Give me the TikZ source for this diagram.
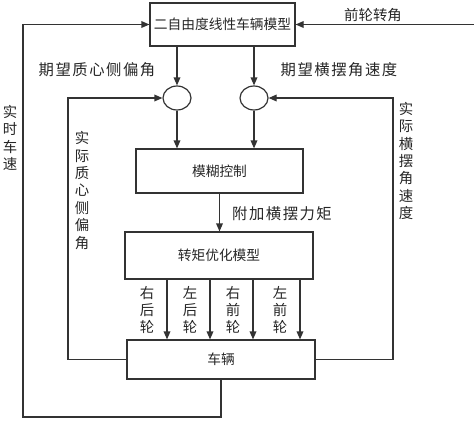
\documentclass[tikz,border=0pt]{standalone}
\usepackage{fontspec}
\setmainfont{Noto Sans CJK SC}
\newfontfamily\widecjk[LetterSpace=10]{Noto Sans CJK SC}
\usetikzlibrary{arrows.meta,shapes.geometric}

\begin{document}
\begin{tikzpicture}[x=0.75pt,y=-0.75pt,
	every node/.style={text=black!85},
	box/.style={draw=black!80,line width=0.9pt,inner sep=0pt,font=\fontsize{10.3}{12}\selectfont},
	sum/.style={draw=black!80,ellipse,line width=0.9pt,minimum width=21pt,minimum height=18pt,inner sep=0pt},
	arr/.style={draw=black!80,-{Triangle[length=6pt,width=5pt]},line width=0.9pt},
	wire/.style={draw=black!80,line width=0.9pt},
	lab/.style={font=\fontsize{10.8}{13.1}\selectfont,align=center,inner sep=0pt},
	widelab/.style={font=\widecjk\fontsize{11.5}{13}\selectfont,inner sep=0pt}]
	\useasboundingbox (0,0) rectangle (474,421);
	% blocks
	\node[box,minimum width=108.75pt,minimum height=32.25pt] (model) at (222.5,24.5) {二自由度线性车辆模型};
	\node[sum] (lsum) at (177,98) {};
	\node[sum] (rsum) at (254,98) {};
	\node[box,minimum width=125.25pt,minimum height=33pt] (fuzzy) at (219.5,171) {模糊控制};
	\node[box,minimum width=141pt,minimum height=35.25pt] (torque) at (219,255.5) {转矩优化模型};
	\node[box,minimum width=141pt,minimum height=29.25pt] (car) at (221,359.5) {车辆};
	% free ends
	\coordinate (steer) at (474,24.5);
	\coordinate (speed) at (23,417);
	\coordinate (betafb) at (68,0);
	\coordinate (yawfb) at (393,0);
	% connectors
	\draw[arr] (steer) -- (model.east);
	\draw[arr] (model.south -| lsum) -- (lsum);
	\draw[arr] (model.south -| rsum) -- (rsum);
	\draw[arr] (lsum) -- (lsum |- fuzzy.north);
	\draw[arr] (rsum) -- (rsum |- fuzzy.north);
	\draw[arr] (fuzzy) -- (fuzzy |- torque.north);
	\draw[arr] (car.south) -- (car.south |- speed) -- (speed) |- (model.west);
	\draw[arr] (car.west) -- (car.west -| betafb) |- (lsum.west);
	\draw[arr] (car.east) -- (car.east -| yawfb) |- (rsum.east);
	\foreach \i/\x/\a/\b in {1/167/右/后,2/210/左/后,3/253/右/前,4/300/左/前}{
		\coordinate (w\i) at (\x,0);
		\draw[arr] (torque.south -| w\i) -- (car.north -| w\i);
		\node[lab] (wl\i) at (\x-20,310) {\a\\\b\\轮};
	}
	% labels
	\node[lab] (steerlab) at (373,15) {前轮转角};
	\node[widelab] (betalab) at (97,70) {期望质心侧偏角};
	\node[widelab] (yawlab) at (339,70) {期望横摆角速度};
	\node[widelab] (mzlab) at (282,214) {附加横摆力矩};
	\node[lab] (speedlab) at (10,138) {实\\时\\车\\速};
	\node[lab] (betafblab) at (82,190.5) {实\\际\\质\\心\\侧\\偏\\角};
	\node[lab] (yawfblab) at (406,161) {实\\际\\横\\摆\\角\\速\\度};
\end{tikzpicture}
\end{document}
